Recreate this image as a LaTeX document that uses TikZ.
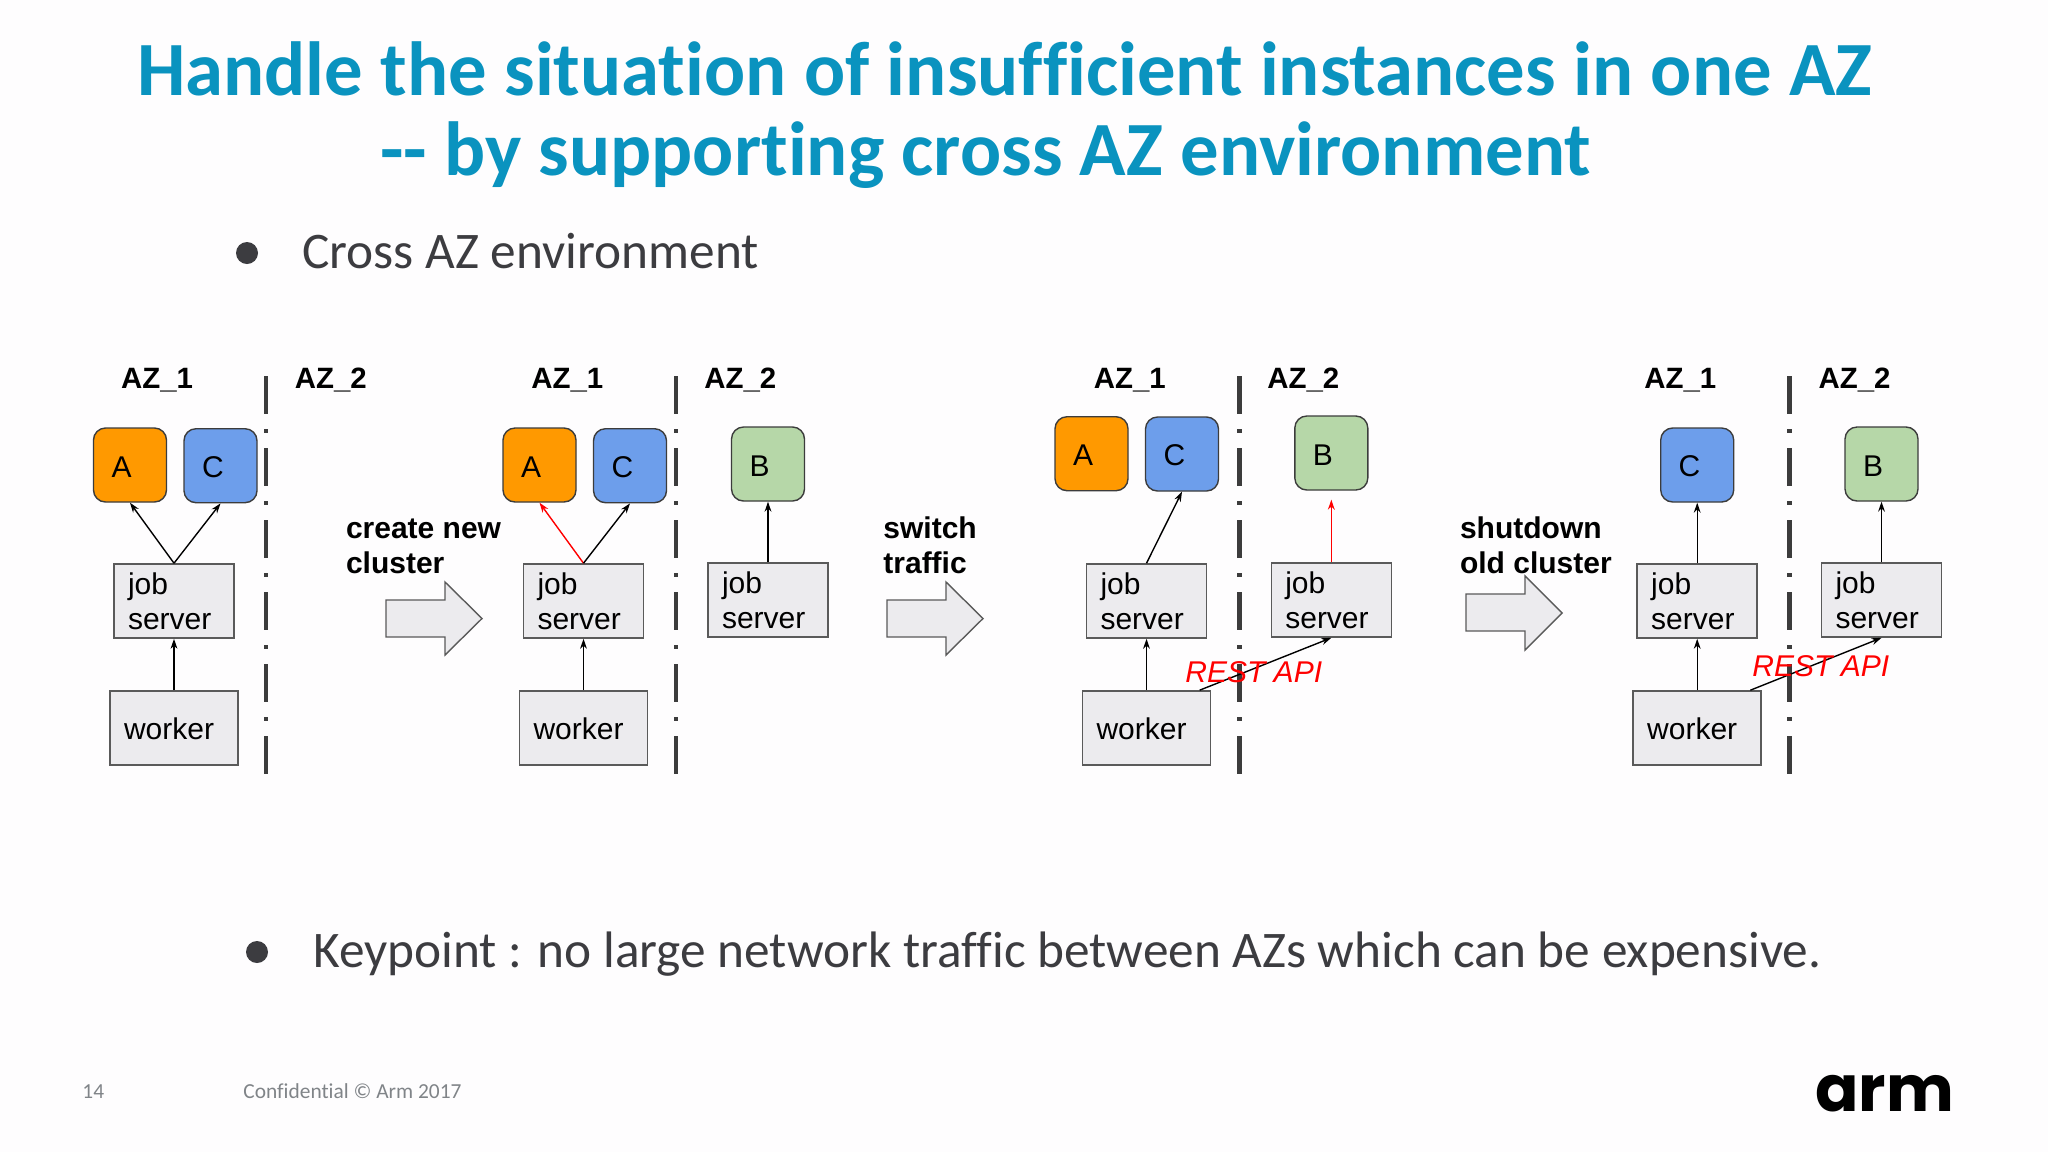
\documentclass[tikz,border=0pt]{standalone}
\usepackage{fontspec}
\setmainfont[Ligatures=NoCommon]{Carlito}
\newfontfamily\arialf{Liberation Sans}
\newfontfamily\poppf{Poppins}
\usetikzlibrary{arrows.meta,calc}
\definecolor{titleblue}{HTML}{0A93BF}
\definecolor{bodygrey}{HTML}{3C3C40}
\definecolor{footgrey}{HTML}{808488}
\definecolor{boxfill}{HTML}{ECEBEE}
\definecolor{boxline}{HTML}{5A5A5A}
\definecolor{appline}{HTML}{3C3C3C}
\definecolor{orangeapp}{HTML}{FF9900}
\definecolor{blueapp}{HTML}{6D9EEB}
\definecolor{greenapp}{HTML}{B6D7A8}
\definecolor{pagebg}{HTML}{FEFDFE}
\tikzset{
  x=0.5pt,y=-0.5pt,
  ttl/.style={font=\fontsize{38.35}{44}\selectfont\bfseries,text=titleblue,anchor=base,inner sep=0},
  body/.style={font=\fontsize{25.65}{30}\selectfont,text=bodygrey,anchor=base west,inner sep=0},
  foot/.style={font=\fontsize{10.7}{13}\selectfont,text=footgrey,anchor=base west,inner sep=0},
  azlabel/.style={font=\arialf\fontsize{14.7}{18}\selectfont\bfseries,anchor=base west,inner sep=0},
  steplabel/.style={font=\arialf\fontsize{15}{17.5}\selectfont\bfseries,anchor=base west,inner sep=0},
  restlabel/.style={font=\arialf\fontsize{15}{18}\selectfont\itshape,text=red,anchor=base west,inner sep=0},
  appbox/.style={draw=appline,line width=0.7pt,rounded corners=6pt,minimum height=37pt,text width=18.5pt,inner xsep=9pt,inner ysep=0pt,align=left,font=\arialf\fontsize{15}{18}\selectfont,execute at begin node=\rule{0pt}{12pt}},
  appa/.style={appbox,fill=orangeapp},
  appc/.style={appbox,fill=blueapp},
  appb/.style={appbox,fill=greenapp},
  jobbox/.style={draw=boxline,line width=0.8pt,fill=boxfill,minimum height=37pt,text width=46pt,inner xsep=7pt,inner ysep=0pt,align=left,font=\arialf\fontsize{15}{17.5}\selectfont},
  workerbox/.style={jobbox,text width=50pt,execute at begin node=\rule{0pt}{12pt}},
  divider/.style={draw=appline,line width=2.2pt,dash pattern=on 19pt off 7.5pt on 2pt off 7.5pt},
  link/.style={draw=black,line width=0.7pt,-{Stealth[length=5pt,width=3.4pt]}},
  hotlink/.style={link,draw=red},
  blockarrow/.style={draw=boxline,line width=0.7pt,fill=boxfill},
  bullet/.style={circle,fill=bodygrey,minimum size=11pt,inner sep=0},
}
\newcommand{\jstext}{\rule{0pt}{11.5pt}job\\server}
\begin{document}
\begin{tikzpicture}
\useasboundingbox (0,0) rectangle (2048,1152);
\fill[pagebg] (0,0) rectangle (2048,1152);
% title
\node[ttl] (t1) at (1004.5,95) {Handle the situation of insufficient instances in one AZ};
\node[ttl] (t2) at (985.5,175) {-{}- by supporting cross AZ environment};
\node[bullet] (b1) at (247,253) {};
\node[body] (b1t) at (302,268) {Cross AZ environment};
\node[bullet] (b2) at (257,952) {};
\node[body] (b2t) at (313,967) {Keypoint : no large network traffic between AZs which can be expensive.};
% footer
\node[foot] (pg) at (82,1098) {14};
\node[foot] (conf) at (243,1098) {Confidential © Arm 2017};
\node[font=\poppf\fontsize{32}{36}\selectfont\bfseries,anchor=base west,inner sep=0] (logo) at (1815,1111) {arm};
% dividers
\coordinate (d1a) at (266,376); \coordinate (d1b) at (266,774);
\coordinate (d2a) at (676,376); \coordinate (d2b) at (676,774);
\coordinate (d3a) at (1239.4,376); \coordinate (d3b) at (1239.4,774);
\coordinate (d4a) at (1789.4,376); \coordinate (d4b) at (1789.4,774);
\draw[divider] (d1a) -- (d1b);
\draw[divider] (d2a) -- (d2b);
\draw[divider] (d3a) -- (d3b);
\draw[divider] (d4a) -- (d4b);
% zone labels
\node[azlabel] (az11) at (120.7,388) {AZ\_1};
\node[azlabel] (az12) at (294.5,388) {AZ\_2};
\node[azlabel] (az21) at (531,388) {AZ\_1};
\node[azlabel] (az22) at (704,388) {AZ\_2};
\node[azlabel] (az31) at (1093.4,388) {AZ\_1};
\node[azlabel] (az32) at (1267,388) {AZ\_2};
\node[azlabel] (az41) at (1644,388) {AZ\_1};
\node[azlabel] (az42) at (1818.2,388) {AZ\_2};
% panel 1
\node[appa] (a1) at (130,465) {A};
\node[appc] (c1) at (220.5,465.7) {C};
\node[jobbox] (j1) at (174,601) {\jstext};
\node[workerbox] (w1) at (174,728) {worker};
\draw[link] (j1.north) -- (a1.south);
\draw[link] (j1.north) -- (c1.south);
\draw[link] (w1.north) -- (j1.south);
% panel 2
\node[appa] (a2) at (539.5,465) {A};
\node[appc] (c2) at (630,465.7) {C};
\node[appb] (b2box) at (768,464) {B};
\node[jobbox] (j2) at (583.5,601) {\jstext};
\node[jobbox] (j2b) at (768,600) {\jstext};
\node[workerbox] (w2) at (583.5,728) {worker};
\draw[hotlink] (j2.north) -- (a2.south);
\draw[link] (j2.north) -- (c2.south);
\draw[link] (j2b.north) -- (b2box.south);
\draw[link] (w2.north) -- (j2.south);
% panel 3
\node[appa] (a3) at (1091.5,453.7) {A};
\node[appc] (c3) at (1182,454) {C};
\node[appb] (b3) at (1331.3,453) {B};
\node[jobbox] (j3) at (1146.5,601) {\jstext};
\node[jobbox] (j3b) at (1331.3,600) {\jstext};
\node[workerbox] (w3) at (1146.5,728) {worker};
\draw[link] (j3.north) -- (c3.south);
\draw[hotlink,shorten >=4.5pt] (j3b.north) -- (b3.south);
\draw[link] (w3.north) -- (j3.south);
\draw[link] ($(w3.north)!0.82!(w3.north east)$) -- (j3b.south);
\node[restlabel] (r3) at (1185,682.7) {REST API};
% panel 4
\node[appc] (c4) at (1697.2,465) {C};
\node[appb] (b4) at (1881.5,464) {B};
\node[jobbox] (j4) at (1697.2,601) {\jstext};
\node[jobbox] (j4b) at (1881.5,600) {\jstext};
\node[workerbox] (w4) at (1697.2,728) {worker};
\draw[link] (j4.north) -- (c4.south);
\draw[link] (j4b.north) -- (b4.south);
\draw[link] (w4.north) -- (j4.south);
\draw[link] ($(w4.north)!0.82!(w4.north east)$) -- (j4b.south);
\node[restlabel] (r4) at (1752,676) {REST API};
% step labels and block arrows
\node[steplabel] (s1a) at (345.6,538) {create new};
\node[steplabel] (s1b) at (345.6,573) {cluster};
\draw[blockarrow] (386,600) -- (445,600) -- (445,582) -- (482,618.5) -- (445,655) -- (445,637) -- (386,637) -- cycle;
\node[steplabel] (s2a) at (883,538) {switch};
\node[steplabel] (s2b) at (883,573) {traffic};
\draw[blockarrow] (887,600) -- (946,600) -- (946,582) -- (983,618.5) -- (946,655) -- (946,637) -- (887,637) -- cycle;
\draw[blockarrow] (1466,594) -- (1525,594) -- (1525,576) -- (1562,613) -- (1525,650) -- (1525,631) -- (1466,631) -- cycle;
\node[steplabel] (s3a) at (1459.6,538) {shutdown};
\node[steplabel] (s3b) at (1459.6,573) {old cluster};
\end{tikzpicture}
\end{document}
